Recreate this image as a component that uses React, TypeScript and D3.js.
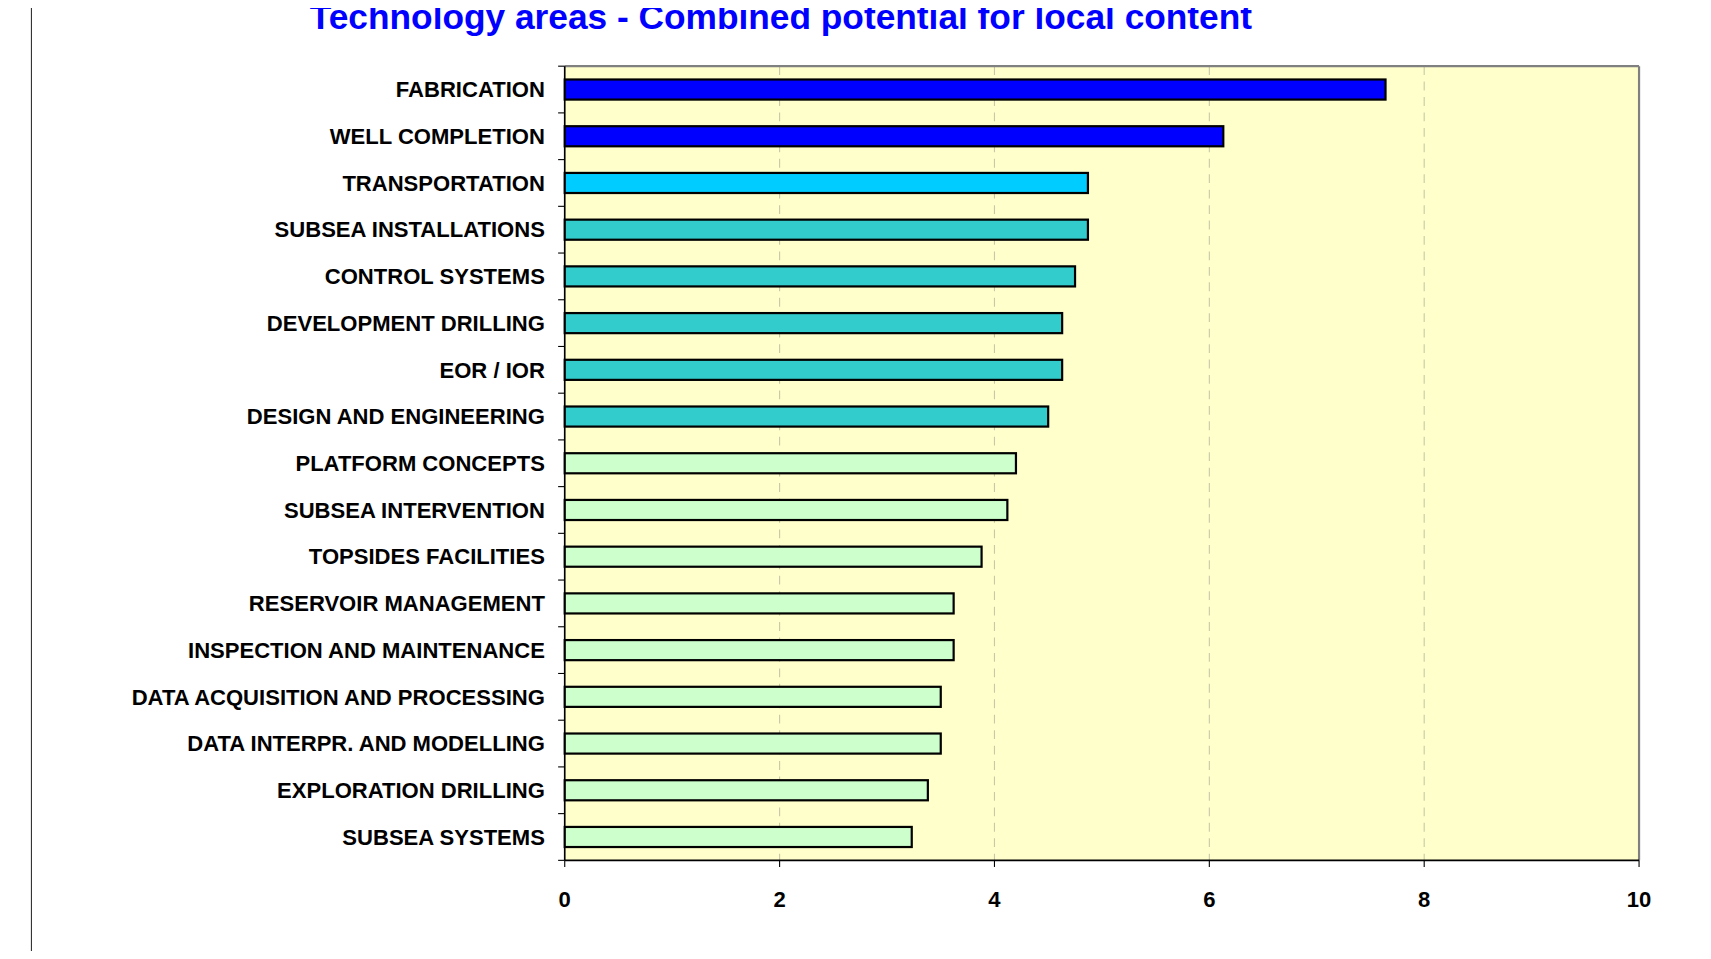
import * as d3 from "d3";

const categories = [
  "FABRICATION", "WELL COMPLETION", "TRANSPORTATION", "SUBSEA INSTALLATIONS",
  "CONTROL SYSTEMS", "DEVELOPMENT DRILLING", "EOR / IOR", "DESIGN AND ENGINEERING",
  "PLATFORM CONCEPTS", "SUBSEA INTERVENTION", "TOPSIDES FACILITIES", "RESERVOIR MANAGEMENT",
  "INSPECTION AND MAINTENANCE", "DATA ACQUISITION AND PROCESSING", "DATA INTERPR. AND MODELLING",
  "EXPLORATION DRILLING", "SUBSEA SYSTEMS",
];
const values = [7.64, 6.13, 4.87, 4.87, 4.75, 4.63, 4.63, 4.5, 4.2, 4.12, 3.88, 3.62, 3.62, 3.5, 3.5, 3.38, 3.23];
const groups = [0, 0, 1, 2, 2, 2, 2, 2, 3, 3, 3, 3, 3, 3, 3, 3, 3];
const groupColors = ["#0000ff", "#00ccff", "#33cccc", "#ccffcc"];
const xTicks = [0, 2, 4, 6, 8, 10];

export default function App() {
  const left = 512, right = 1486, top = 60, bottom = 780;
  const x = d3.scaleLinear().domain([0, 10]).range([left, right]);
  const y = d3.scaleBand().domain(categories).range([top, bottom]).paddingInner(0.57).paddingOuter(0.285);
  const font = "Liberation Sans, Arial, sans-serif";
  const bandStep = (bottom - top) / categories.length;
  return (
    <svg width={1695} height={943} style={{ display: "block" }}>
      <g transform="translate(-8,-8) scale(1.103)">
        <rect x={28.5} y={-10} width={1522} height={875} fill="white" stroke="#333" strokeWidth={1} />
        <text x={708} y={26} textAnchor="middle" fontFamily={font} fontWeight="bold" fontSize={32} fill="#0000ff">
          Technology areas - Combined potential for local content
        </text>
        <rect x={left} y={top} width={right - left} height={bottom - top} fill="#ffffcc" />
        {xTicks.slice(1, -1).map((t) => (
          <line key={t} x1={x(t)} x2={x(t)} y1={top} y2={bottom} stroke="#c8c8a8" strokeDasharray="8,6" />
        ))}
        <line x1={left} x2={right} y1={top} y2={top} stroke="#808080" strokeWidth={2} />
        <line x1={right} x2={right} y1={top} y2={bottom} stroke="#808080" strokeWidth={2} />
        <line x1={left} x2={left} y1={top} y2={bottom} stroke="#000" strokeWidth={1.5} />
        <line x1={left} x2={right} y1={bottom} y2={bottom} stroke="#000" strokeWidth={1.5} />
        {d3.range(categories.length + 1).map((i) => (
          <line key={i} x1={left - 6} x2={left} y1={top + i * bandStep} y2={top + i * bandStep} stroke="#000" />
        ))}
        {xTicks.map((t) => (
          <g key={t}>
            <line x1={x(t)} x2={x(t)} y1={bottom} y2={bottom + 6} stroke="#000" />
            <text x={x(t)} y={822} textAnchor="middle" fontFamily={font} fontWeight="bold" fontSize={20}>{t}</text>
          </g>
        ))}
        {categories.map((c, i) => (
          <g key={c}>
            <rect x={x(0)} y={y(c)!} width={x(values[i]) - x(0)} height={y.bandwidth()}
              fill={groupColors[groups[i]]} stroke="#000" strokeWidth={2} />
            <text x={494} y={y(c)! + y.bandwidth() / 2} dy="0.35em" textAnchor="end"
              fontFamily={font} fontWeight="bold" fontSize={20}>{c}</text>
          </g>
        ))}
      </g>
    </svg>
  );
}
